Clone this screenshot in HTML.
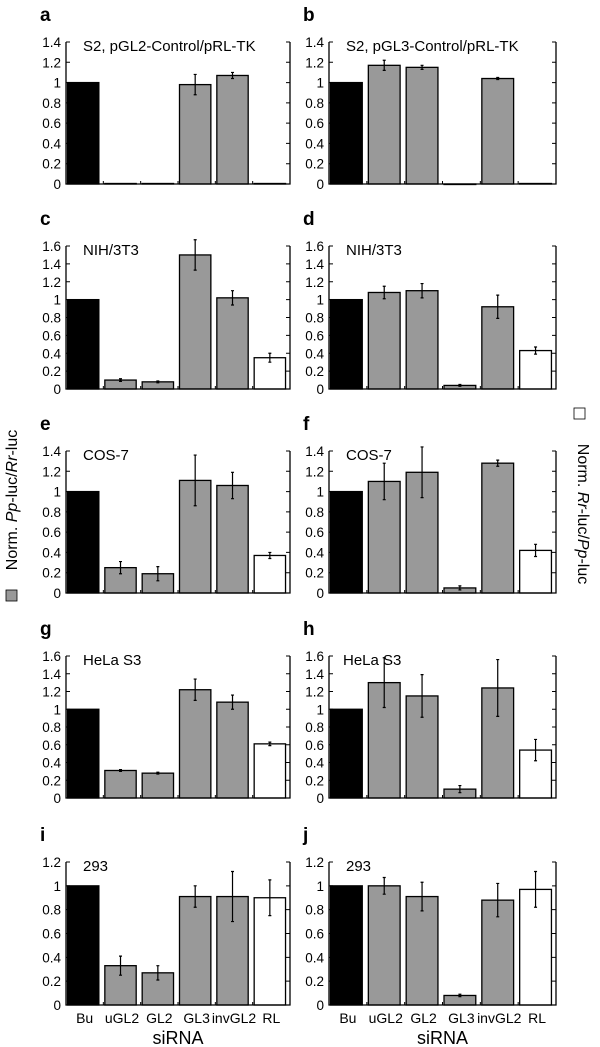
<!DOCTYPE html>
<html><head><meta charset="utf-8">
<style>
html,body{margin:0;padding:0;background:#fff;}
svg{display:block;font-family:"Liberation Sans",sans-serif;}
</style></head>
<body>
<svg id="fig" width="600" height="1047" viewBox="0 0 600 1047">
<g>
<rect x="6" y="590" width="11" height="11" fill="#999" stroke="#000" stroke-width="0.8"/>
<text transform="translate(17,500) rotate(-90)" text-anchor="middle" font-size="16">Norm. <tspan font-style="italic">Pp</tspan>-luc/<tspan font-style="italic">Rr</tspan>-luc</text>
</g>
<g>
<rect x="574" y="408" width="11" height="11" fill="#fff" stroke="#000" stroke-width="0.8"/>
<text transform="translate(578,514) rotate(90)" text-anchor="middle" font-size="16">Norm. <tspan font-style="italic">Rr</tspan>-luc/<tspan font-style="italic">Pp</tspan>-luc</text>
</g>
</svg>
<script>
const categories = ["Bu","uGL2","GL2","GL3","invGL2","RL"];
const panelLetters = ["a","b","c","d","e","f","g","h","i","j"];
const panelTitles = ["S2, pGL2-Control/pRL-TK","S2, pGL3-Control/pRL-TK","NIH/3T3","NIH/3T3","COS-7","COS-7","HeLa S3","HeLa S3","293","293"];
const panelMax = [1.4,1.4,1.6,1.6,1.4,1.4,1.6,1.6,1.2,1.2];
const valuesA = [1,0.005,0.005,0.98,1.07,0.005];
const errorsA = [0,0,0,0.1,0.03,0];
const valuesB = [1,1.17,1.15,0,1.04,0.005];
const errorsB = [0,0.05,0.02,0,0.01,0];
const valuesC = [1,0.1,0.08,1.5,1.02,0.35];
const errorsC = [0,0.015,0.01,0.17,0.08,0.05];
const valuesD = [1,1.08,1.1,0.04,0.92,0.43];
const errorsD = [0,0.07,0.08,0.01,0.13,0.04];
const valuesE = [1,0.25,0.19,1.11,1.06,0.37];
const errorsE = [0,0.06,0.07,0.25,0.13,0.03];
const valuesF = [1,1.1,1.19,0.05,1.28,0.42];
const errorsF = [0,0.18,0.25,0.02,0.03,0.06];
const valuesG = [1,0.31,0.28,1.22,1.08,0.61];
const errorsG = [0,0.01,0.01,0.12,0.08,0.02];
const valuesH = [1,1.3,1.15,0.1,1.24,0.54];
const errorsH = [0,0.28,0.24,0.04,0.32,0.12];
const valuesI = [1,0.33,0.27,0.91,0.91,0.9];
const errorsI = [0,0.08,0.06,0.09,0.21,0.15];
const valuesJ = [1,1,0.91,0.08,0.88,0.97];
const errorsJ = [0,0.07,0.12,0.01,0.14,0.15];
const tickLabels = {"1.4":["0","0.2","0.4","0.6","0.8","1","1.2","1.4"],"1.6":["0","0.2","0.4","0.6","0.8","1","1.2","1.4","1.6"],"1.2":["0","0.2","0.4","0.6","0.8","1","1.2"]};

const allValues=[valuesA,valuesB,valuesC,valuesD,valuesE,valuesF,valuesG,valuesH,valuesI,valuesJ];
const allErrors=[errorsA,errorsB,errorsC,errorsD,errorsE,errorsF,errorsG,errorsH,errorsI,errorsJ];
const NS="http://www.w3.org/2000/svg";
const svg=document.getElementById('fig');
const colX=[[66,290],[329,556]];
const rowTop=[42,246,451,656,862];
const rowBot=[184,389,593,798,1005];
const fills=["#000","#999","#999","#999","#999","#fff"];
function mk(tag,attrs,parent){const e=document.createElementNS(NS,tag);for(const k in attrs)e.setAttribute(k,attrs[k]);parent.appendChild(e);return e;}
for(let p=0;p<10;p++){
  const col=p%2,row=Math.floor(p/2);
  const x0=colX[col][0],x1=colX[col][1],top=rowTop[row],bot=rowBot[row];
  const max=panelMax[p];
  const y=v=>bot-(v/max)*(bot-top);
  const slot=(x1-x0)/6;
  const g=mk('g',{},svg);
  
  
  const L=mk('text',{x:x0-26,y:top-21,'font-size':19,'font-weight':'bold'},g);
  L.textContent=panelLetters[p];
  
  
  const vals=allValues[p],errs=allErrors[p];
  for(let i=0;i<6;i++){
    const bx=x0+i*slot+1.5,bw=slot*0.84,by=y(vals[i]);
    const r=mk('rect',{x:bx,y:by,width:bw,height:Math.max(bot-by,0.5),fill:fills[i],stroke:'#000','stroke-width':1.3},g);
    
    
    if(errs[i]>0){
      const cx=bx+bw/2;
      const e=mk('path',{d:`M${cx},${y(vals[i]-errs[i])}V${y(vals[i]+errs[i])}M${cx-1.5},${y(vals[i]-errs[i])}h3M${cx-1.5},${y(vals[i]+errs[i])}h3`,stroke:'#000','stroke-width':1.2,fill:'none'},g);
      
      
    }
  }
  const ax=mk('path',{d:`M${x0},${top}V${bot}H${x1}V${top}`,stroke:'#000','stroke-width':1.3,fill:'none'},g);
  
  
  const labs=tickLabels[String(max)];
  labs.forEach((t,k)=>{
    const v=parseFloat(t),ty=y(v);
    mk('path',{d:`M${x0},${ty}h4M${x1},${ty}h-4`,stroke:'#000','stroke-width':1},g);
    const tx=mk('text',{x:x0-5,y:ty+5,'font-size':13.5,'text-anchor':'end'},g);
    tx.textContent=t;
    
    
  });
  for(let i=1;i<6;i++){mk('path',{d:`M${x0+i*slot},${bot}v-3`,stroke:'#000','stroke-width':1},g);}
  const T=mk('text',{x:x0+(p==7?14:17),y:top+9,'font-size':15},g);
  T.textContent=panelTitles[p];
  
  
  if(row==4){
    for(let i=0;i<6;i++){
      const c=mk('text',{x:x0+i*slot+slot/2,y:bot+18,'font-size':14,'text-anchor':'middle'},g);
      c.textContent=categories[i];
      
      
    }
    const xt=mk('text',{x:(x0+x1)/2,y:bot+39,'font-size':18,'text-anchor':'middle'},g);
    xt.textContent='siRNA';
    
    
  }
}
</script>
</body></html>
